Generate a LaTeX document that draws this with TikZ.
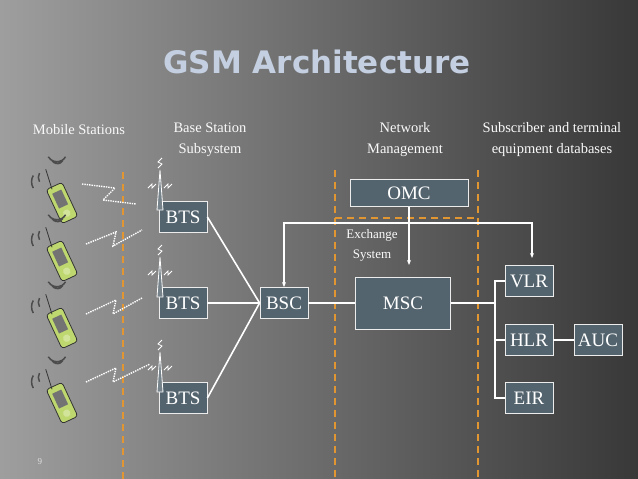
\documentclass[tikz,border=0pt]{standalone}
\usepackage{fontspec}
\setmainfont{Liberation Serif}
\newfontfamily\titlefont{DejaVu Sans}
\usetikzlibrary{positioning,arrows.meta}
\definecolor{boxfill}{RGB}{84,100,110}
\definecolor{divider}{RGB}{226,150,50}
\definecolor{phonegreen}{RGB}{190,215,110}
\definecolor{titleblue}{RGB}{196,208,226}
\tikzset{
  unit/.style={draw=white!85!gray,fill=boxfill,thick,text=white,font=\fontsize{19}{19}\selectfont,minimum height=31pt,minimum width=48pt,inner sep=1pt},
  caption/.style={text=white!95!gray,font=\fontsize{14.5}{21}\selectfont,align=center},
  divline/.style={divider,dashed,line width=1.6pt,dash pattern=on 7pt off 5pt},
  link/.style={white,line width=1.6pt},
  radio/.style={white,densely dotted,line width=1.4pt},
  phone/.pic={
    \draw[thick,black!80,fill=phonegreen,rotate=25,rounded corners=3pt] (-7,-15) rectangle (7,15);
    \fill[black!55,rotate=25] (-4,-10) rectangle (4,3);
    \fill[phonegreen!70!white,rotate=25] (0,9) circle (3);
    \draw[thick,black!80] (-8,-11) -- (-13,-27);
    \draw[line width=1.5pt,black!70] (-18,-24) arc (210:150:7) (-23,-22) arc (210:150:10);
    \draw[line width=1.5pt,black!70] (-8,-34) arc (150:30:5) (-11,-37) arc (150:30:8);
  },
  tower/.pic={
    \draw[white,thick,fill=white!20!boxfill] (-3,0) -- (0,-40) -- (3,0) -- cycle;
    \draw[white,thick] (-12,-22) -- (-8,-26) -- (-8,-22) -- (-4,-26);
    \draw[white,thick] (4,-22) -- (8,-26) -- (8,-22) -- (12,-26);
    \draw[white,thick] (-2,-42) -- (2,-46) -- (-2,-48) -- (2,-52);
  }
}
\begin{document}
\begin{tikzpicture}[x=1pt,y=-1pt,>={Stealth[length=5pt,width=4pt]}]
  \useasboundingbox (0,0) rectangle (638,479);
  \shade[shading angle=115,left color=black!38,right color=black!78] (0,0) rectangle (638,479);

  % title
  \node[text=titleblue,font=\titlefont\bfseries\fontsize{31}{31}\selectfont] (title) at (317,62) {GSM Architecture};
  \node[text=white!75!gray,font=\fontsize{9}{9}\selectfont] (page) at (40,462) {9};

  % dividers
  \draw[divline] (123,172) -- (123,479);
  \draw[divline] (335,170) -- (335,479);
  \draw[divline] (478,170) -- (478,479);
  \draw[divline] (335,218) -- (478,218);

  % headings
  \node[caption] (ms) at (79,130) {Mobile Stations};
  \node[caption] (bss) at (210,140) {Base Station\\Subsystem};
  \node[caption] (nm) at (405,140) {Network\\Management};
  \node[caption] (db) at (552,140) {Subscriber and terminal\\equipment databases};
  \node[caption,font=\fontsize{13}{20}\selectfont] (xs) at (372,245) {Exchange\\System};

  % units
  \node[unit] (bts1) at (183,217) {BTS};
  \node[unit] (bts2) at (183,303) {BTS};
  \node[unit] (bts3) at (183,398) {BTS};
  \node[unit] (bsc) at (284,303) {BSC};
  \node[unit,minimum width=95pt,minimum height=52pt] (msc) at (403,303) {MSC};
  \node[unit,minimum width=118pt,minimum height=27pt] (omc) at (409,193) {OMC};
  \node[unit] (vlr) at (529,281) {VLR};
  \node[unit] (hlr) at (529,340) {HLR};
  \node[unit] (auc) at (598,340) {AUC};
  \node[unit] (eir) at (529,398) {EIR};

  % antennas and handsets
  \foreach \y in {210,297,392} \pic at (160,\y) {tower};
  \foreach \y in {203,261,328,403} \pic[scale=1.25] at (62,\y) {phone};

  % radio links
  \draw[radio] (82,184) -- (115,188) -- (103,200) -- (136,204);
  \draw[radio] (86,244) -- (116,232) -- (113,246) -- (142,230);
  \draw[radio] (86,314) -- (116,300) -- (113,314) -- (142,298);
  \draw[radio] (86,382) -- (116,368) -- (113,382) -- (150,364);

  % wired links
  \coordinate (hub) at (bsc.west);
  \draw[link] (bts1.east) -- (hub) (bts2.east) -- (hub) (bts3.east) -- (hub);
  \draw[link] (bsc) -- (msc);
  \coordinate (bus) at (495,303);
  \draw[link] (msc) -- (bus);
  \draw[link] (vlr.west) -| (bus) |- (eir.west);
  \draw[link] (bus |- hlr) -- (hlr);
  \draw[link] (hlr) -- (auc);
  \draw[link,->] (omc) -- (409,265);
  \coordinate (mgmt) at (409,223);
  \draw[link,->] (mgmt) -| (bsc.north);
  \draw[link,->] (mgmt) -| (532,258);
\end{tikzpicture}
\end{document}
